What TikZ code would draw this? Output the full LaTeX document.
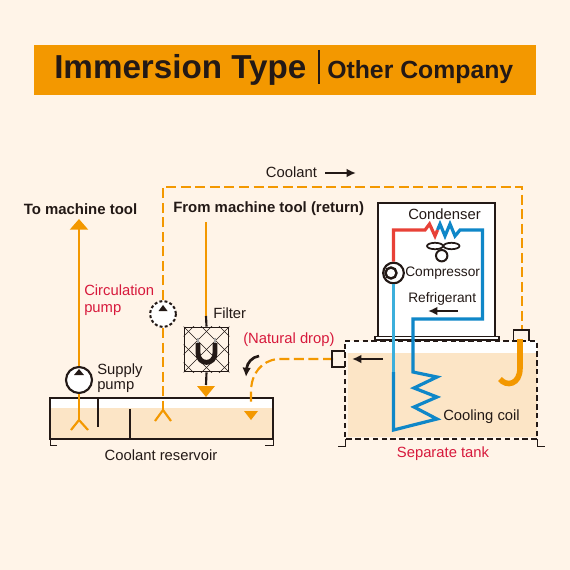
\documentclass[tikz,border=0pt]{standalone}
\usepackage{fontspec}
\setmainfont{Liberation Sans}
\usepackage{xcolor}
\usetikzlibrary{calc,arrows.meta,positioning}
\definecolor{pageCream}{RGB}{255,244,232}
\definecolor{coolOrange}{RGB}{243,152,0}
\definecolor{liquidTan}{RGB}{252,229,198}
\definecolor{labelRed}{RGB}{215,25,60}
\definecolor{hotRed}{RGB}{232,65,55}
\definecolor{coldBlue}{RGB}{15,135,200}
\definecolor{paleBlue}{RGB}{60,175,220}
\definecolor{inkBlack}{RGB}{35,25,22}
\tikzset{
    label text/.style={text=inkBlack, inner sep=0pt, font=\fontsize{11.1}{11.4}\selectfont},
    small text/.style={label text, font=\fontsize{10.3}{11.4}\selectfont},
    red text/.style={label text, text=labelRed},
    bold text/.style={label text, font=\fontsize{11.2}{12}\selectfont\bfseries},
    tank wall/.style={inkBlack, line width=1pt},
    tank dash/.style={inkBlack, line width=1.2pt, dash pattern=on 4pt off 2.6pt},
    pipe/.style={coolOrange, line width=1.6pt},
    dash pipe/.style={pipe, dash pattern=on 7.5pt off 3.4pt},
    solid tip/.style={-{Triangle[length=8pt,width=13.5pt]}},
    ink arrow/.style={inkBlack, line width=1.8pt, -{Latex[length=7pt,width=6.5pt]}},
    pump/.style={circle, draw=inkBlack, fill=white, line width=1.6pt, minimum size=19.5pt, inner sep=0pt},
    ref/.style={line width=2.4pt, line join=miter},
}
\begin{document}
\begin{tikzpicture}[x=0.75pt,y=-0.75pt]
    % page and title
    \fill[pageCream] (0,0) rectangle (570,570);
    \useasboundingbox (0,0) rectangle (570,570);
    \fill[coolOrange] (34,45) rectangle (536,95);
    \node[anchor=base west, inner sep=0pt, text=inkBlack, font=\fontsize{24.9}{28}\selectfont\bfseries] (titlemain) at (54,79) {Immersion Type};
    \draw[inkBlack, line width=0.9pt] (319,50) -- (319,84);
    \node[anchor=base west, inner sep=0pt, text=inkBlack, font=\fontsize{18.6}{22}\selectfont\bfseries] (titleside) at (327,78.5) {Other Company};

    % liquid
    \fill[white] (50,398) rectangle (273,408);
    \fill[liquidTan] (50,408) rectangle (273,439);
    \fill[white] (345,341) rectangle (537,353);
    \fill[liquidTan] (348,353) rectangle (537,437);

    % coolant reservoir
    \draw[tank wall] (50,398) rectangle (273,439);
    \draw[inkBlack, line width=0.6pt] (57,445) -- (50,445) -- (50,439);
    \draw[inkBlack, line width=0.6pt] (265,445) -- (273,445) -- (273,439);
    \draw[inkBlack, line width=1.9pt] (98,398) -- (98,427);
    \draw[inkBlack, line width=1.9pt] (130,409) -- (130,439);
    \node[label text] (reservoirlabel) at (161,455) {Coolant reservoir};

    % supply side
    \node[pump] (supplypump) at (79,380) {};
    \coordinate (supplytop) at (79,219);
    \coordinate (supplyfoot) at (79,420);
    \draw[pipe, solid tip] (supplypump) -- (supplytop);
    \draw[pipe] (supplypump) -- (supplyfoot);
    \draw[pipe] (71,430) -- (supplyfoot) -- (88,430);
    \fill[inkBlack] (79,369) -- (84,375) -- (74,375) -- cycle;
    \node[bold text] (totool) at (80.5,209) {To machine tool};
    \node[red text, anchor=west, align=left] (circlabel) at (84,300) {Circulation\\[1.4pt]pump};
    \node[label text, anchor=west, align=left] (supplylabel) at (97,378) {Supply\\pump};

    % circulation line
    \node[pump, draw=none] (circpump) at (163,314) {};
    \draw[inkBlack, fill=white, line width=1.5pt, dash pattern=on 2.2pt off 1.7pt] (circpump) circle[radius=13];
    \fill[inkBlack] (163,305) -- (167.5,311) -- (158.5,311) -- cycle;
    \coordinate (circfoot) at (163,410);
    \coordinate (tankinlet) at (522,330);
    \draw[dash pipe] (circpump) -- (163,187) -- (522,187) -- (tankinlet);
    \draw[dash pipe] (circpump) -- (circfoot);
    \draw[pipe] (155,421) -- (circfoot) -- (171,421);
    \node[label text] (coolantlabel) at (291.5,172.5) {Coolant};
    \coordinate (coolstart) at (325,173);
    \coordinate (coolend) at (356,173);
    \draw[ink arrow] (coolstart) -- (coolend);

    % return and filter
    \node[draw=inkBlack, line width=1.2pt, minimum size=33pt, inner sep=0pt] (filterbox) at (206.5,349.5) {};
    \begin{scope}
        \clip (filterbox.south west) rectangle (filterbox.north east);
        \foreach \d in {-54,-36,...,54} {
            \draw[inkBlack, line width=0.35pt] (206.5+\d-30,349.5+30) -- (206.5+\d+30,349.5-30);
            \draw[inkBlack, line width=0.35pt] (206.5+\d-30,349.5-30) -- (206.5+\d+30,349.5+30);
        }
    \end{scope}
    \draw[inkBlack, line width=3.7pt] (198,343) -- (198,353) .. controls (198,365.5) and (215,365.5) .. (215,353) -- (215,343);
    \draw[gray!70, line width=2.2pt] (198,337.5) -- (198,343);
    \draw[gray!70, line width=2.2pt] (215,337.5) -- (215,343);
    \coordinate (returntop) at (206,222);
    \coordinate (returnend) at (206,316);
    \coordinate (filterdrop) at (206,385);
    \coordinate (filtertip) at (206,397);
    \draw[pipe] (returntop) -- (returnend);
    \draw[inkBlack, line width=1.6pt] (returnend) -- (filterbox.north);
    \draw[inkBlack, line width=1.6pt] (filterbox.south) -- (filterdrop);
    \fill[coolOrange] (197,386) -- (215,386) -- (filtertip) -- cycle;
    \node[bold text, anchor=west] (fromtool) at (173,209) {From machine tool (return)};
    \node[label text, anchor=west] (filterlabel) at (213,313) {Filter};

    % natural drop
    \draw[dash pipe] (333,359) -- (277,359) .. controls (262,361) and (251,373) .. (251,392) -- (251,404);
    \fill[coolOrange] (244,411) -- (258,411) -- (251,420) -- cycle;
    \draw[ink arrow, line width=2pt] (259,356) .. controls (252,357) and (247,363) .. (246,377);
    \node[red text, anchor=west] (droplabel) at (243,340) {(Natural drop)};

    % separate tank
    \draw[tank dash] (345,341) -- (537,341) -- (537,439) -- (345,439) -- cycle;
    \draw[inkBlack, line width=0.7pt] (338,446) -- (345,446) -- (345,439);
    \draw[inkBlack, line width=0.7pt] (537,439) -- (537,446) -- (545,446);
    \draw[tank wall] (345,351) -- (332,351) -- (332,367) -- (345,367);
    \coordinate (backstart) at (383,359);
    \coordinate (backend) at (352,359);
    \draw[ink arrow] (backstart) -- (backend);
    \draw[tank wall] (513.5,341) -- (513.5,330) -- (529,330) -- (529,341);
    \draw[coolOrange, line width=4.2pt] (520,339) -- (520,368) .. controls (520,385) and (506,387) .. (500,379);
    \node[red text] (tanklabel) at (443,454) {Separate tank};
    \node[label text, anchor=west] (coillabel) at (443,417) {Cooling coil};

    % refrigeration unit
    \draw[inkBlack, fill=white, line width=1.5pt] (378,337) -- (378,203) -- (495,203) -- (495,337);
    \draw[inkBlack, fill=white, line width=1.2pt] (375,336.5) rectangle (499,340);
    \node[pump, minimum size=15.5pt] (compressor) at (393.5,273) {};
    \draw[paleBlue, ref] (compressor) -- (393.5,373);
    \draw[coldBlue, ref] (393.5,372) -- (393.5,430) -- (437,419) -- (414,407) -- (437,397) -- (414,388) -- (437,377) -- (413,372) -- (413,319) -- (482.5,319) -- (482.5,230) -- (460,230) -- (455,236) -- (450,224) -- (445,236) -- (440,224) -- (437.5,230);
    \draw[hotRed, ref] (437.5,230) -- (435,236) -- (429.5,224) -- (425,230) -- (393.5,230) -- (compressor);
    \draw[inkBlack, line width=1.8pt] (391,273) circle[radius=5.5];
    \draw[inkBlack, line width=1.3pt] (435,246) ellipse[x radius=8,y radius=3.2];
    \draw[inkBlack, line width=1.3pt] (451.5,246) ellipse[x radius=8,y radius=3.2];
    \draw[inkBlack, line width=1.5pt] (441.7,255.7) circle[radius=5.7];
    \node[label text] (condenserlabel) at (444.5,214) {Condenser};
    \node[small text, anchor=west] (compressorlabel) at (405,273.5) {Compressor};
    \node[small text, anchor=west] (refrigerantlabel) at (408,299) {Refrigerant};
    \coordinate (refstart) at (458,311);
    \coordinate (refend) at (428,311);
    \draw[ink arrow] (refstart) -- (refend);
\end{tikzpicture}
\end{document}
